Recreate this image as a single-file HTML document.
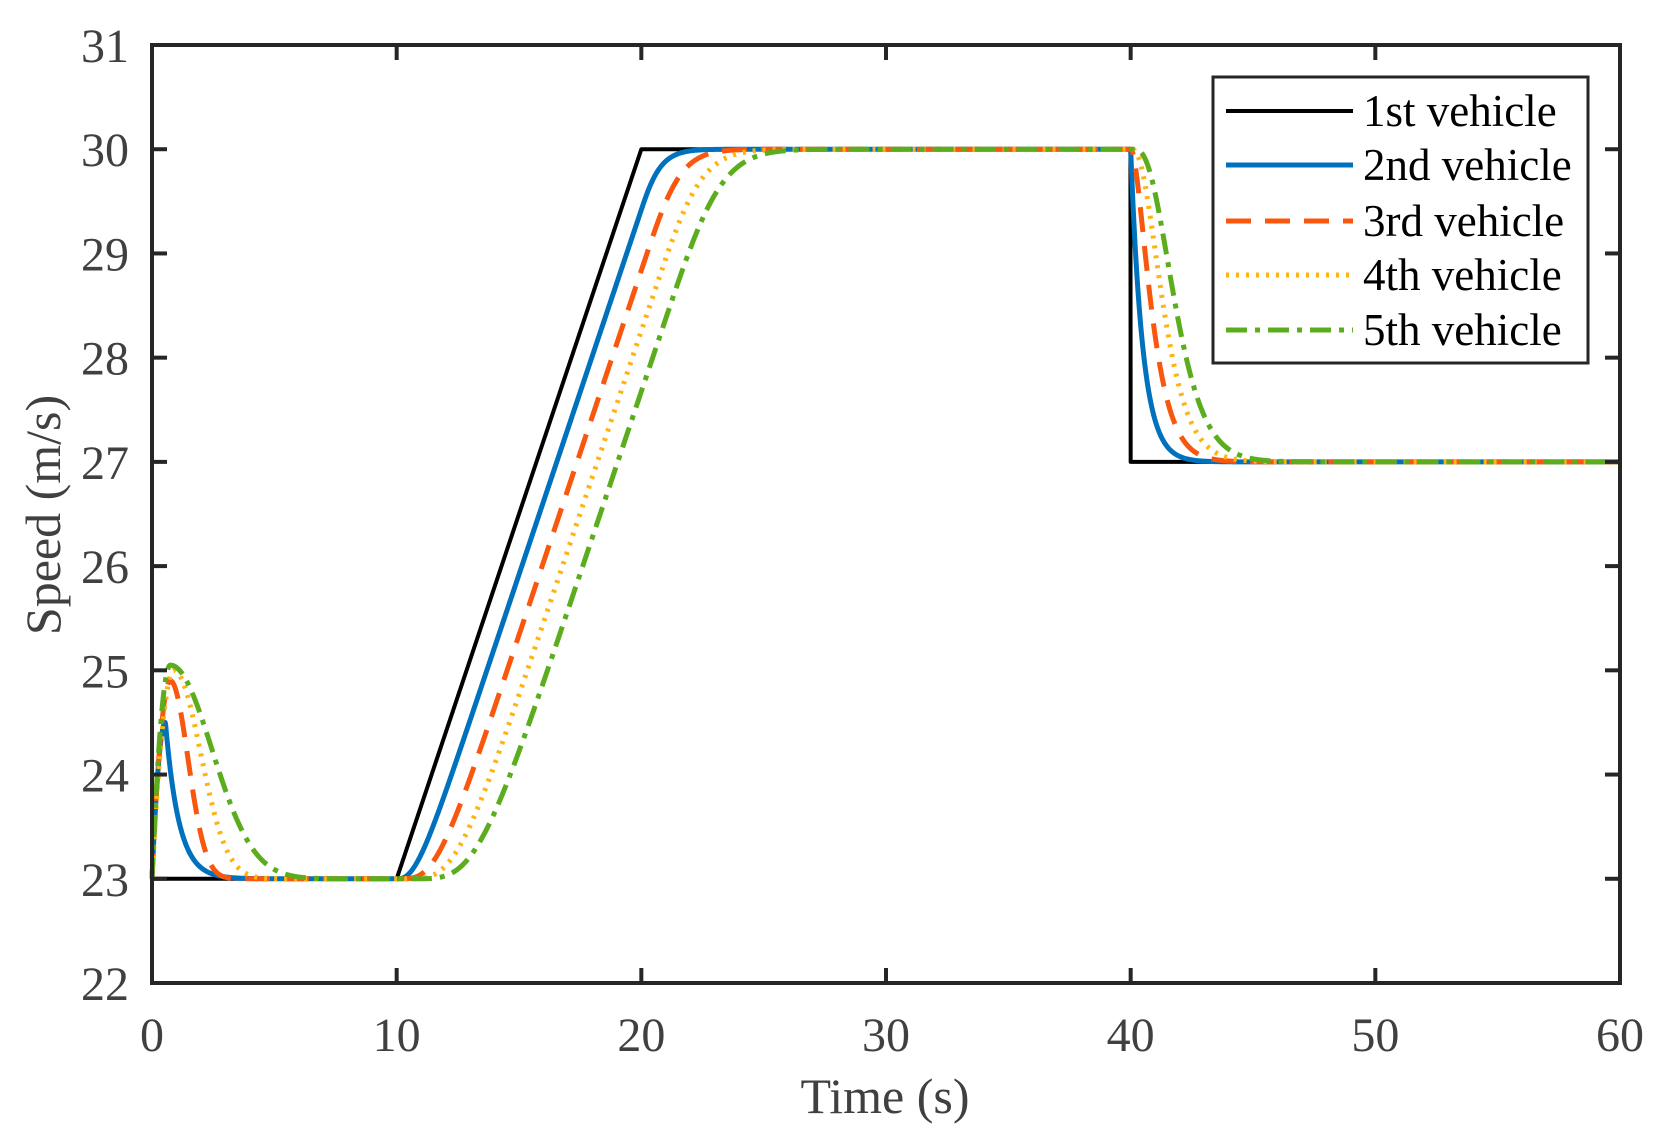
<!DOCTYPE html>
<html><head><meta charset="utf-8"><style>
html,body{margin:0;padding:0;background:#fff;}
svg{display:block;}
text{font-family:"Liberation Serif",serif;}
</style></head><body>
<svg id="s" width="1669" height="1139" viewBox="0 0 1669 1139" xmlns="http://www.w3.org/2000/svg">
<rect width="1669" height="1139" fill="#fff"/>
<g id="curves" fill="none" stroke-linejoin="round"></g>
<g id="axes" stroke="#262626" stroke-width="4" fill="none"></g>
<g id="labels" fill="#404040" font-size="48"></g>
<text x="885" y="1113" font-size="50" fill="#404040" text-anchor="middle">Time (s)</text>
<text transform="translate(60,515) rotate(-90)" font-size="50" fill="#404040" text-anchor="middle">Speed (m/s)</text>
<g>
<rect x="1213" y="77" width="375" height="286" fill="#fff" stroke="#262626" stroke-width="3"/>
<line x1="1226" y1="111" x2="1353" y2="111" stroke="#000" stroke-width="4"/>
<line x1="1226" y1="165" x2="1353" y2="165" stroke="#0072BD" stroke-width="5"/>
<line x1="1226" y1="221" x2="1353" y2="221" stroke="#F9560E" stroke-width="5" stroke-dasharray="25,14"/>
<line x1="1226" y1="275" x2="1353" y2="275" stroke="#FFB30F" stroke-width="5" stroke-dasharray="3,7"/>
<line x1="1226" y1="330" x2="1353" y2="330" stroke="#5BAD1E" stroke-width="5" stroke-dasharray="21,8,5,8"/>
<g font-size="45" fill="#000">
<text x="1363" y="126">1st vehicle</text>
<text x="1363" y="180">2nd vehicle</text>
<text x="1363" y="236">3rd vehicle</text>
<text x="1363" y="290">4th vehicle</text>
<text x="1363" y="345">5th vehicle</text>
</g>
</g>
</svg>
<script>
var NS="http://www.w3.org/2000/svg";
function X(t){return 152+t*(1620-152)/60;}
function Y(v){return 983-(v-22)*(983-45)/9;}
function el(p,tag,a,txt){var e=document.createElementNS(NS,tag);for(var k in a)e.setAttribute(k,a[k]);if(txt!=null)e.textContent=txt;p.appendChild(e);return e;}
var ax=document.getElementById('axes'),lb=document.getElementById('labels');
el(ax,'rect',{x:152,y:45,width:1468,height:938});
for(var i=0;i<=6;i++){var x=X(i*10);el(ax,'line',{x1:x,y1:983,x2:x,y2:968});el(ax,'line',{x1:x,y1:45,x2:x,y2:60});
el(lb,'text',{x:x,y:1051,'text-anchor':'middle'},String(i*10));}
for(var v=22;v<=31;v++){var y=Y(v);el(ax,'line',{x1:152,y1:y,x2:167,y2:y});el(ax,'line',{x1:1620,y1:y,x2:1605,y2:y});
el(lb,'text',{x:129,y:y+17,'text-anchor':'end'},String(v));}
function lead(t){if(t<10)return 23;if(t<20)return 23+0.7*(t-10);if(t<40)return 30;return 27;}
var dt=0.01,N=6000,a=0.42,tau=0.5;
var bumps=[null,null,{A:1.5,tp:0.55,w:0.55,p:1},{A:1.9,tp:0.75,w:1.02,p:2},{A:2.0,tp:0.9,w:1.53,p:2},{A:2.05,tp:0.75,w:2.4,p:2}];
var series=[];
var prevA=[];for(var k=0;k<=N;k++)prevA.push(lead(k*dt));
var prevB=prevA.slice();
series.push(prevA.slice());
for(var veh=2;veh<=5;veh++){
  var s1=23,s2=23,q=23,curA=[],curB=[];
  for(var k=0;k<=N;k++){curA.push(s2);s1+=dt/a*(prevA[k]-s1);s2+=dt/a*(s1-s2);
    curB.push(q);q+=dt/tau*(prevB[k]-q);}
  prevA=curA;prevB=curB;
  var b=bumps[veh],out=[];
  for(var k=0;k<=N;k++){var t=k*dt,f;
    if(t<b.tp){var r=t/b.tp;f=1-(1-r)*(1-r);}
    else f=Math.exp(-Math.pow((t-b.tp)/b.w,b.p));
    var base=(t<35)?curA[k]:curB[k];
    out.push(base+b.A*f);}
  series.push(out);}
var styles=[{c:"#000",w:4,d:""},{c:"#0072BD",w:5,d:""},{c:"#F9560E",w:5,d:"25,14"},{c:"#FFB30F",w:5,d:"3,7"},{c:"#5BAD1E",w:5,d:"21,8,5,8"}];
var cg=document.getElementById('curves');
series.forEach(function(s,i){var d="";for(var k=0;k<=N;k+=(i==0?1:2)){d+=(k?"L":"M")+X(k*dt).toFixed(2)+","+Y(s[k]).toFixed(2);}
var at={d:d,stroke:styles[i].c,'stroke-width':styles[i].w};if(styles[i].d)at['stroke-dasharray']=styles[i].d;el(cg,'path',at);});
</script>
</body></html>
